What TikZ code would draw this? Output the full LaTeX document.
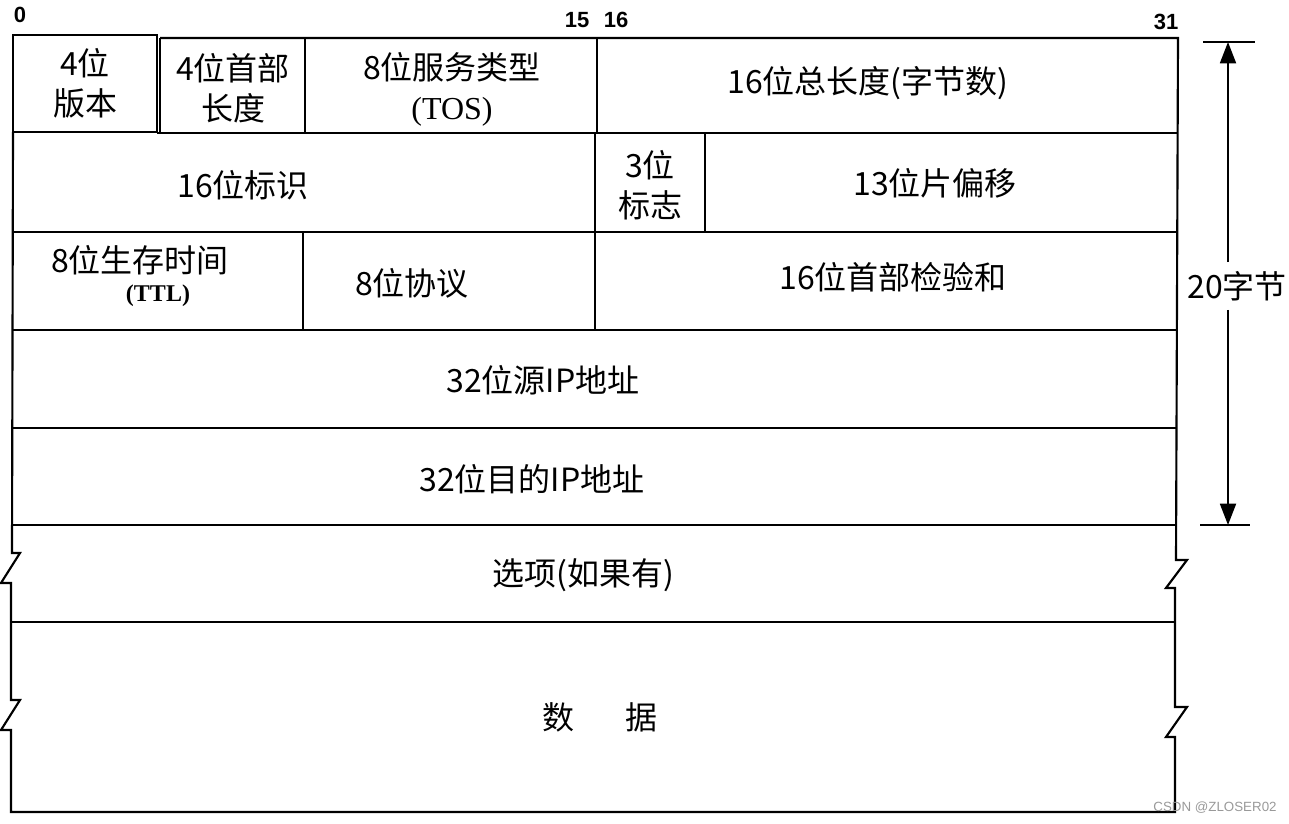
\documentclass[tikz,border=0pt]{standalone}
\usepackage{fontspec}
\usepackage{tikz}
\usetikzlibrary{arrows.meta}
\newfontfamily\cjk{Noto Sans CJK SC}
\newfontfamily\serifen{Liberation Serif}
\newfontfamily\bitnum{Liberation Sans}

\begin{document}
\begin{tikzpicture}[x=0.75pt,y=0.75pt,yscale=-1,xscale=1,
  every node/.style={font=\cjk\fontsize{24}{30}\selectfont,inner sep=0.75pt,align=center},
  bitlabel/.style={font=\bitnum\bfseries\fontsize{16.5}{19}\selectfont},
  frame/.style={line width=1.6pt},
  sizearrow/.style={line width=1.4pt,-{Triangle[length=16pt,width=12pt]}}]
\useasboundingbox (0,0) rectangle (1289,824);

%Shape: Rectangle
\draw [frame] (13,35) -- (157,35) -- (157,132) -- (13,132) -- cycle ;
%Shape: Polygon
\draw [frame] (160,38) -- (1178,38) -- (1176,560) -- (1187,560) -- (1166,588) -- (1175,588) -- (1175,707) -- (1187,707) -- (1166,737) -- (1175,737) -- (1175,812) -- (11,812) -- (11,730) -- (1,730) -- (20,700) -- (11,700) -- (11,583) -- (1,583) -- (20,553) -- (12,553) -- (13,132) ;
\draw [frame] (160,38) -- (160,133) ;
%Straight Lines
\draw [frame] (157,133) -- (1178,133) ;
\draw [frame] (13,232) -- (1177,232) ;
\draw [frame] (13,330) -- (1177,330) ;
\draw [frame] (12,428) -- (1177,428) ;
\draw [frame] (12,525) -- (1176,525) ;
\draw [frame] (12,622) -- (1175,622) ;
%Straight Lines
\draw [frame] (305,38) -- (305,133) ;
\draw [frame] (597,38) -- (597,133) ;
\draw [frame] (595,133) -- (595,232) ;
\draw [frame] (705,133) -- (705,232) ;
\draw [frame] (303,232) -- (303,330) ;
\draw [frame] (595,232) -- (595,330) ;

% Text Node
\draw (20,15) node (bit0) [bitlabel] {0};
% Text Node
\draw (577,20) node (bit15) [bitlabel] {15};
% Text Node
\draw (616,20) node (bit16) [bitlabel] {16};
% Text Node
\draw (1166,22) node (bit31) [bitlabel] {31};

% Text Node
\draw (85,83) node (ver) {4位\\版本};
% Text Node
\draw (233,88) node (ihl) {4位首部\\长度};
% Text Node
\draw (452,89) node (tos) {8位服务类型\\{\serifen (TOS)}};
% Text Node
\draw (868,83) node (totlen) {16位总长度(字节数)};
% Text Node
\draw (243,185) node (ident) {16位标识};
% Text Node
\draw (650,185) node (flags) {3位\\标志};
% Text Node
\draw (935,183) node (offset) {13位片偏移};
% Text Node
\draw (140,260) node (ttl) {8位生存时间};
% Text Node
\draw (158,296) node (ttlabbr) [font=\serifen\bfseries\fontsize{18}{20}\selectfont] {(TTL)};
% Text Node
\draw (412,283) node (proto) {8位协议};
% Text Node
\draw (893,277) node (cksum) {16位首部检验和};
% Text Node
\draw (543,380) node (srcip) {32位源IP地址};
% Text Node
\draw (532,479) node (dstip) {32位目的IP地址};
% Text Node
\draw (583,575) node (opts) {选项(如果有)};
% Text Node
\draw (600,717) node (data) {数\hspace{38pt}据};
% Text Node
\draw (1237,286) node (bytes) [outer sep=6pt] {20字节};
% Text Node
\draw (1215,808) node (mark) [font=\bitnum\fontsize{10}{12}\selectfont,text=gray!80] {CSDN @ZLOSER02};

%Straight Lines
\coordinate (top) at (1228,42);
\coordinate (bot) at (1228,525);
\draw [line width=1.4pt] (1203,42) -- (1255,42) ;
\draw [line width=1.4pt] (1200,525) -- (1250,525) ;
\draw [sizearrow] (bytes.north -| top) -- (top) ;
\draw [sizearrow] (bytes.south -| bot) -- (bot) ;

\end{tikzpicture}
\end{document}
